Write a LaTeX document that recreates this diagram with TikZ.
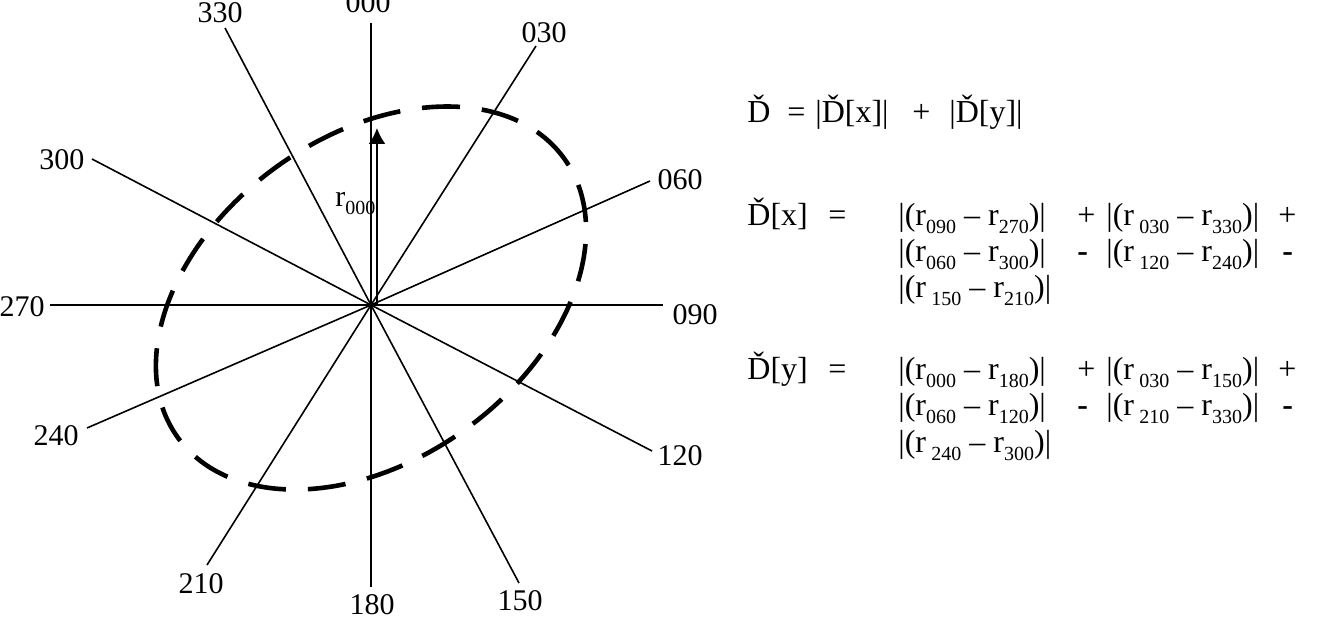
\documentclass[tikz,border=0pt]{standalone}
\usepackage{fontspec}
\setmainfont{Liberation Serif}
\usetikzlibrary{arrows.meta}
\newcommand\sbx[1]{\raisebox{-0.25em}{\fontsize{10}{10}\selectfont #1}}
\newcommand\trm[3]{|(r#1\sbx{#2} – r\sbx{#3})|}
\begin{document}
\begin{tikzpicture}[x=0.5pt,y=0.5pt,
  ray/.style={line width=0.8pt},
  oval/.style={line width=2.3pt, dash pattern=on 19pt off 11pt},
  lbl/.style={font=\fontsize{15}{15}\selectfont, anchor=base, inner sep=0pt},
  eq/.style={font=\fontsize{16}{16}\selectfont, anchor=base west, inner sep=0pt}]
\useasboundingbox (0,0) rectangle (1321,616);
\fill[white] (0,0) rectangle (1321,616);
% centre and ray ends
\coordinate (C) at (371,311);
\coordinate (e000) at (371,593);
\coordinate (e030) at (536,570);
\coordinate (e060) at (650,435);
\coordinate (e090) at (663,311);
\coordinate (e120) at (652,165);
\coordinate (e150) at (519,33);
\coordinate (e180) at (371,29);
\coordinate (e210) at (207,51);
\coordinate (e240) at (87,188);
\coordinate (e270) at (50,311);
\coordinate (e300) at (92,457);
\coordinate (e330) at (225,588);
\foreach \a in {000,030,060,090,120,150,180,210,240,270,300,330}
  \draw[ray] (C) -- (e\a);
% labels
\node[lbl] (l000) at (368,603) {000};
\node[lbl] (l030) at (544,573) {030};
\node[lbl] (l060) at (680,426) {060};
\node[lbl] (l090) at (695,291) {090};
\node[lbl] (l120) at (680,151) {120};
\node[lbl] (l150) at (520,6) {150};
\node[lbl] (l180) at (372,2) {180};
\node[lbl] (l210) at (201,23) {210};
\node[lbl] (l240) at (56,171) {240};
\node[lbl] (l270) at (22,299) {270};
\node[lbl] (l300) at (62,446) {300};
\node[lbl] (l330) at (220,593) {330};
% dashed oval
\coordinate (E) at (371,318);
\draw[oval, rotate around={35.9:(E)}] (E) ellipse [x radius=238.3, y radius=161.7];
% r000 arrow and label
\begin{scope}
\clip (320,380) rectangle (376,430);
\node[eq, font=\fontsize{15}{15}\selectfont] (r0) at (335,409) {r\sbx{000}};
\end{scope}
\coordinate (a0) at (377,311);
\coordinate (a1) at (377,488);
\draw[line width=1pt, -{Latex[length=8pt,width=8.5pt]}] (a0) -- (a1);
% formulas
\node[eq] (d0) at (747,493) {Ď};
\node[eq] (d0e) at (787,493) {=};
\node[eq] (d0a) at (815,493) {|Ď[x]|};
\node[eq] (d0p) at (912,493) {+};
\node[eq] (d0b) at (949,493) {|Ď[y]|};
% D[x]
\node[eq] (dx) at (747,390) {Ď[x]};
\node[eq] (dxe) at (828,390) {=};
\node[eq] (x1) at (898,390) {\trm{}{090}{270}};
\node[eq] (x1s) at (1077,390) {+};
\node[eq] (x2) at (1106,390) {\trm{\,}{030}{330}};
\node[eq] (x2s) at (1278,390) {+};
\node[eq] (x3) at (898,354) {\trm{}{060}{300}};
\node[eq] (x3s) at (1077,354) {\textbf{-}};
\node[eq] (x4) at (1106,354) {\trm{\,}{120}{240}};
\node[eq] (x4s) at (1282,354) {\textbf{-}};
\node[eq] (x5) at (898,318) {\trm{\,}{150}{210}};
% D[y]
\node[eq] (dy) at (747,236) {Ď[y]};
\node[eq] (dye) at (828,236) {=};
\node[eq] (y1) at (898,236) {\trm{}{000}{180}};
\node[eq] (y1s) at (1077,236) {+};
\node[eq] (y2) at (1106,236) {\trm{\,}{030}{150}};
\node[eq] (y2s) at (1278,236) {+};
\node[eq] (y3) at (898,200) {\trm{}{060}{120}};
\node[eq] (y3s) at (1077,200) {\textbf{-}};
\node[eq] (y4) at (1106,200) {\trm{\,}{210}{330}};
\node[eq] (y4s) at (1282,200) {\textbf{-}};
\node[eq] (y5) at (898,164) {\trm{\,}{240}{300}};
\end{tikzpicture}
\end{document}
